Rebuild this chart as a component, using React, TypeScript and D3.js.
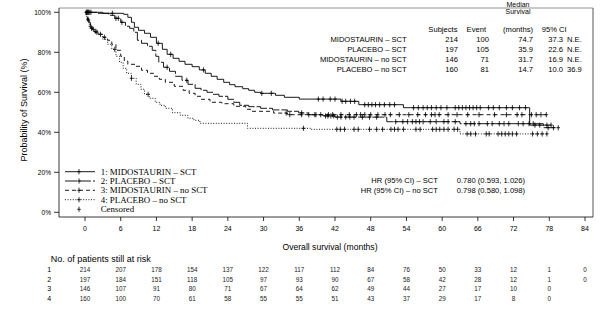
import React from "react";
import * as d3 from "d3";

// ---------- data ----------
const xTicks = [0, 6, 12, 18, 24, 30, 36, 42, 48, 54, 60, 66, 72, 78, 84];
const yTicks = [0, 20, 40, 60, 80, 100];

const seriesNames = ["1: MIDOSTAURIN  – SCT", "2: PLACEBO – SCT", "3: MIDOSTAURIN  – no SCT", "4: PLACEBO – no SCT"];
const tableLabels = ["MIDOSTAURIN – SCT", "PLACEBO – SCT", "MIDOSTAURIN – no SCT", "PLACEBO – no SCT"];
const subjects = ["214", "197", "146", "160"];
const events = ["100", "105", "71", "81"];
const medians = ["74.7", "35.9", "31.7", "14.7"];
const ciLow = ["37.3", "22.6", "16.9", "10.0"];
const ciHigh = ["N.E.", "N.E.", "N.E.", "36.9"];
const hrLabels = ["HR (95% CI) – SCT", "HR (95% CI) – no SCT"];
const hrValues = ["0.780 (0.593, 1.026)", "0.798 (0.580, 1.098)"];

// KM steps: [month, survival %]
const km1: [number, number][] = [[0,100],[3,99.5],[6.5,99],[7.2,97.5],[7.8,95],[8.3,92.5],[9,91],[10,89.5],[11,87.5],[12,84.5],[13,81.5],[13.8,79],[14.8,77],[15.8,75.5],[16.8,74],[18,72.8],[19.2,71.2],[20.2,69.5],[21.2,68],[22.2,66.5],[23.3,65],[24.3,63.8],[25.2,62.8],[26.5,61.8],[27.5,61],[28.5,60],[29.5,59.5],[32,58.5],[33.5,57.5],[36,56.6],[43,55.5],[46,53.8],[53.5,52.3],[74.7,43.6]];
const km2: [number, number][] = [[0,100],[2,99.5],[4,98.5],[5,97],[6,95],[6.8,93],[7.5,92],[8.2,90],[8.8,86],[9.5,84.5],[10.5,83],[11.3,81],[11.9,78],[12.4,75],[13.2,72.5],[14.2,70.5],[15.2,68],[16.3,66],[17.3,64],[18.5,62],[19.5,61],[20.5,60],[21.5,59],[22.5,58],[24,56.5],[25,55],[26,53.5],[27.5,52.8],[29.5,52],[31.5,51.2],[34,50.5],[35.9,49.7],[37.5,48.8],[40,48.2],[42,47.6],[50.7,45.3],[63,44.3],[77,42.3]];
const km3: [number, number][] = [[0,100],[0.2,98],[0.4,96.5],[0.6,95],[0.9,93],[1.2,91.5],[1.6,90],[2.2,89],[3,87.5],[3.8,86],[4.5,84],[5.2,81],[6,78],[6.6,75.5],[7.2,74],[8.5,73],[9.5,71],[10.5,69.5],[11.5,68],[12.5,66.5],[13.5,65],[15,63],[16.5,61],[17.5,59.5],[18.5,58],[19.5,56.5],[21,55],[23,54.3],[25,53],[27,51.5],[28,50.5],[31.7,49.6],[34,48.8]];
const km4: [number, number][] = [[0,100],[0.2,98],[0.4,96],[0.7,94],[1,92],[1.5,90.5],[2.2,89],[3,86.5],[3.8,84],[4.5,81.5],[5.2,78],[5.8,75],[6.4,72],[7,69.5],[7.8,67],[8.6,64],[9.4,61.5],[10,59],[10.8,57],[11.8,55],[12.6,53.5],[13.5,52],[14.7,49.8],[16,48.5],[17.3,47],[18.3,46],[19.3,44.5],[27.3,42],[38,41.5],[63,39.2]];
const ends = [78.3, 79.5, 77.5, 77.6];

const cens1 = [0.2,0.4,0.6,1.0,4.6,12.3,14.4,19.9,29.7,31.3,39.2,40.0,41.2,42.0,43.2,43.8,44.6,45.3,47.0,47.6,48.2,48.8,49.5,50.3,51.2,52.0,55.2,56.0,56.8,57.5,58.2,59.0,59.8,60.8,62.2,62.8,63.4,64.0,64.6,65.2,65.8,66.4,67.8,68.6,69.6,70.8,71.8,73.0,74.0,75.6,76.4,77.6,78.3];
const cens2 = [0.3,0.5,0.8,5.2,5.6,6.2,13.8,17.1,36.4,37.6,38.8,39.6,40.4,40.8,41.3,41.8,42.4,43.0,43.8,44.5,45.2,46.6,47.8,49.0,52.2,53.4,54.2,55.0,55.6,56.2,56.8,58.0,59.0,60.3,61.0,62.2,64.0,64.8,65.4,66.2,67.6,68.4,69.6,70.4,71.2,72.8,73.6,74.6,75.3,77.8,78.7,79.5];
const cens3 = [0.5,0.9,1.4,2.0,2.6,3.3,33.8,34.4,36.4,38.6,40.9,41.6,43.0,44.4,45.6,46.3,47.0,48.0,49.2,50.4,51.3,52.8,54.4,55.9,57.2,58.2,58.8,59.5,61.0,62.5,64.3,66.2,68.8,70.8,72.6,73.4,75.0,75.8,76.6,77.5];
const cens4 = [0.6,1.1,1.8,5.0,7.8,10.6,36.7,42.3,42.9,43.6,45.2,45.9,47.8,49.0,50.0,51.4,52.0,52.6,53.5,55.6,56.3,58.4,59.0,59.6,60.3,61.0,62.0,62.6,64.2,64.8,65.6,67.4,67.9,69.4,70.0,70.6,71.2,71.8,72.5,75.2,76.0,76.8,77.6];

const risk1 = [214,207,178,154,137,122,117,112,84,76,50,33,12,1,0];
const risk2 = [197,184,151,118,105,97,93,90,67,58,42,28,12,1,0];
const risk3 = [146,107,91,80,71,67,64,62,49,44,27,17,10,0];
const risk4 = [160,100,70,61,58,55,55,51,43,37,29,17,8,0];

const curves = [km1, km2, km3, km4];
const censors = [cens1, cens2, cens3, cens4];
const risks = [risk1, risk2, risk3, risk4];

// ---------- layout ----------
const W = 606, H = 322;
const box = { l: 59, r: 593, t: 8, b: 217 };
const x = d3.scaleLinear().domain([0, 84]).range([85, 585]);
const y = d3.scaleLinear().domain([0, 100]).range([212.3, 12.3]);
const dashes = ["none", "12,2", "4,3", "1,1.6"];
const SANS = "'Liberation Sans', Arial, sans-serif";
const SERIF = "'Liberation Serif', 'Times New Roman', serif";

function survAt(km: [number, number][], t: number) {
  let s = km[0][1];
  for (const [tt, v] of km) { if (tt <= t) s = v; else break; }
  return s;
}

const line = d3.line<[number, number]>().x(d => x(d[0])).y(d => y(d[1])).curve(d3.curveStepAfter);

function Plus({ cx, cy }: { cx: number; cy: number }) {
  return (
    <g stroke="#000" strokeWidth={0.8}>
      <line x1={cx} x2={cx} y1={cy - 2.6} y2={cy + 2.6} />
      <line x1={cx - 1.8} x2={cx + 1.8} y1={cy} y2={cy} />
    </g>
  );
}

export default function App() {
  const tableRowsY = [39, 49, 59.3, 69.5];
  const legendY = [171.7, 181, 190.3, 199.7];
  const riskY = [269.5, 279, 288.5, 298];
  return (
    <svg width={W} height={H} style={{ position: "absolute", left: 0, top: 0, background: "#fff" }}>
      {/* plot box */}
      <line x1={box.l} x2={box.r} y1={box.t} y2={box.t} stroke="#888" strokeWidth={0.9} />
      <line x1={box.l} x2={box.l} y1={box.t} y2={box.b} stroke="#222" strokeWidth={0.9} />
      <line x1={box.r} x2={box.r} y1={box.t} y2={box.b} stroke="#444" strokeWidth={0.9} />
      <line x1={box.l} x2={box.r} y1={box.b} y2={box.b} stroke="#222" strokeWidth={0.9} />
      {/* y ticks */}
      {yTicks.map(v => (
        <g key={"yt" + v}>
          <line x1={54} x2={box.l} y1={y(v)} y2={y(v)} stroke="#000" strokeWidth={0.8} />
          <text x={51} y={y(v)} textAnchor="end" dominantBaseline="central" fontFamily={SANS} fontSize={6.6}>{v + "%"}</text>
        </g>
      ))}
      {/* x ticks */}
      {xTicks.map(v => (
        <g key={"xt" + v}>
          <line x1={x(v)} x2={x(v)} y1={box.b} y2={box.b + 4} stroke="#000" strokeWidth={0.8} />
          <text x={x(v)} y={228.5} textAnchor="middle" dominantBaseline="central" fontFamily={SANS} fontSize={7}>{v}</text>
        </g>
      ))}
      <text transform="translate(24,110) rotate(-90)" textAnchor="middle" dominantBaseline="central" fontFamily={SANS} fontSize={9}>Probability of Survival (%)</text>
      <text x={330} y={246.7} textAnchor="middle" dominantBaseline="central" fontFamily={SANS} fontSize={8.6}>Overall survival (months)</text>

      {/* curves */}
      {curves.map((km, i) => {
        const pts: [number, number][] = [...km, [ends[i], km[km.length - 1][1]]];
        return <path key={"c" + i} d={line(pts) || ""} fill="none" stroke="#000" strokeWidth={0.9} strokeDasharray={dashes[i]} />;
      })}
      {censors.map((cs, i) => cs.map((t, j) => <Plus key={"p" + i + "_" + j} cx={x(t)} cy={y(survAt(curves[i], t))} />))}

      {/* legend */}
      {seriesNames.map((n, i) => (
        <g key={"lg" + i}>
          <line x1={65} x2={95} y1={legendY[i]} y2={legendY[i]} stroke="#000" strokeWidth={0.9} strokeDasharray={dashes[i]} />
          <Plus cx={79} cy={legendY[i]} />
          <text x={100.7} y={legendY[i]} dominantBaseline="central" fontFamily={SERIF} fontSize={8.9}>{n}</text>
        </g>
      ))}
      <Plus cx={79} cy={209.3} />
      <text x={100.7} y={209.3} dominantBaseline="central" fontFamily={SERIF} fontSize={8.9}>Censored</text>

      {/* summary table */}
      <g fontFamily={SANS} fontSize={7.6}>
        <text x={518} y={4} textAnchor="middle" dominantBaseline="central" fontSize={7}>Median</text>
        <text x={518} y={11.6} textAnchor="middle" dominantBaseline="central" fontSize={7}>Survival</text>
        <text x={457.5} y={29.8} textAnchor="end" dominantBaseline="central">Subjects</text>
        <text x={486} y={29.8} textAnchor="end" dominantBaseline="central">Event</text>
        <text x={533} y={29.8} textAnchor="end" dominantBaseline="central">(months)</text>
        <text x={541.7} y={29.8} dominantBaseline="central">95% CI</text>
        {tableLabels.map((l, i) => (
          <g key={"tr" + i}>
            <text x={406.7} y={tableRowsY[i]} textAnchor="end" dominantBaseline="central">{l}</text>
            <text x={458} y={tableRowsY[i]} textAnchor="end" dominantBaseline="central">{subjects[i]}</text>
            <text x={489} y={tableRowsY[i]} textAnchor="end" dominantBaseline="central">{events[i]}</text>
            <text x={533} y={tableRowsY[i]} textAnchor="end" dominantBaseline="central">{medians[i]}</text>
            <text x={563} y={tableRowsY[i]} textAnchor="end" dominantBaseline="central">{ciLow[i]}</text>
            <text x={567} y={tableRowsY[i]} dominantBaseline="central">{ciHigh[i]}</text>
          </g>
        ))}
        {hrLabels.map((l, i) => (
          <g key={"hr" + i}>
            <text x={438} y={180 + i * 10} textAnchor="end" dominantBaseline="central">{l}</text>
            <text x={456.7} y={180 + i * 10} dominantBaseline="central">{hrValues[i]}</text>
          </g>
        ))}
      </g>

      {/* risk table */}
      <text x={50.7} y={259} dominantBaseline="central" fontFamily={SANS} fontSize={9}>No. of patients still at risk</text>
      {risks.map((r, i) => (
        <g key={"rk" + i} fontFamily={SANS}>
          <text x={49.3} y={riskY[i]} textAnchor="middle" dominantBaseline="central" fontSize={7}>{i + 1}</text>
          {r.map((v, j) => (
            <text key={j} x={x(xTicks[j])} y={riskY[i]} textAnchor="middle" dominantBaseline="central" fontSize={6.3} fill="#222">{v}</text>
          ))}
        </g>
      ))}
    </svg>
  );
}
